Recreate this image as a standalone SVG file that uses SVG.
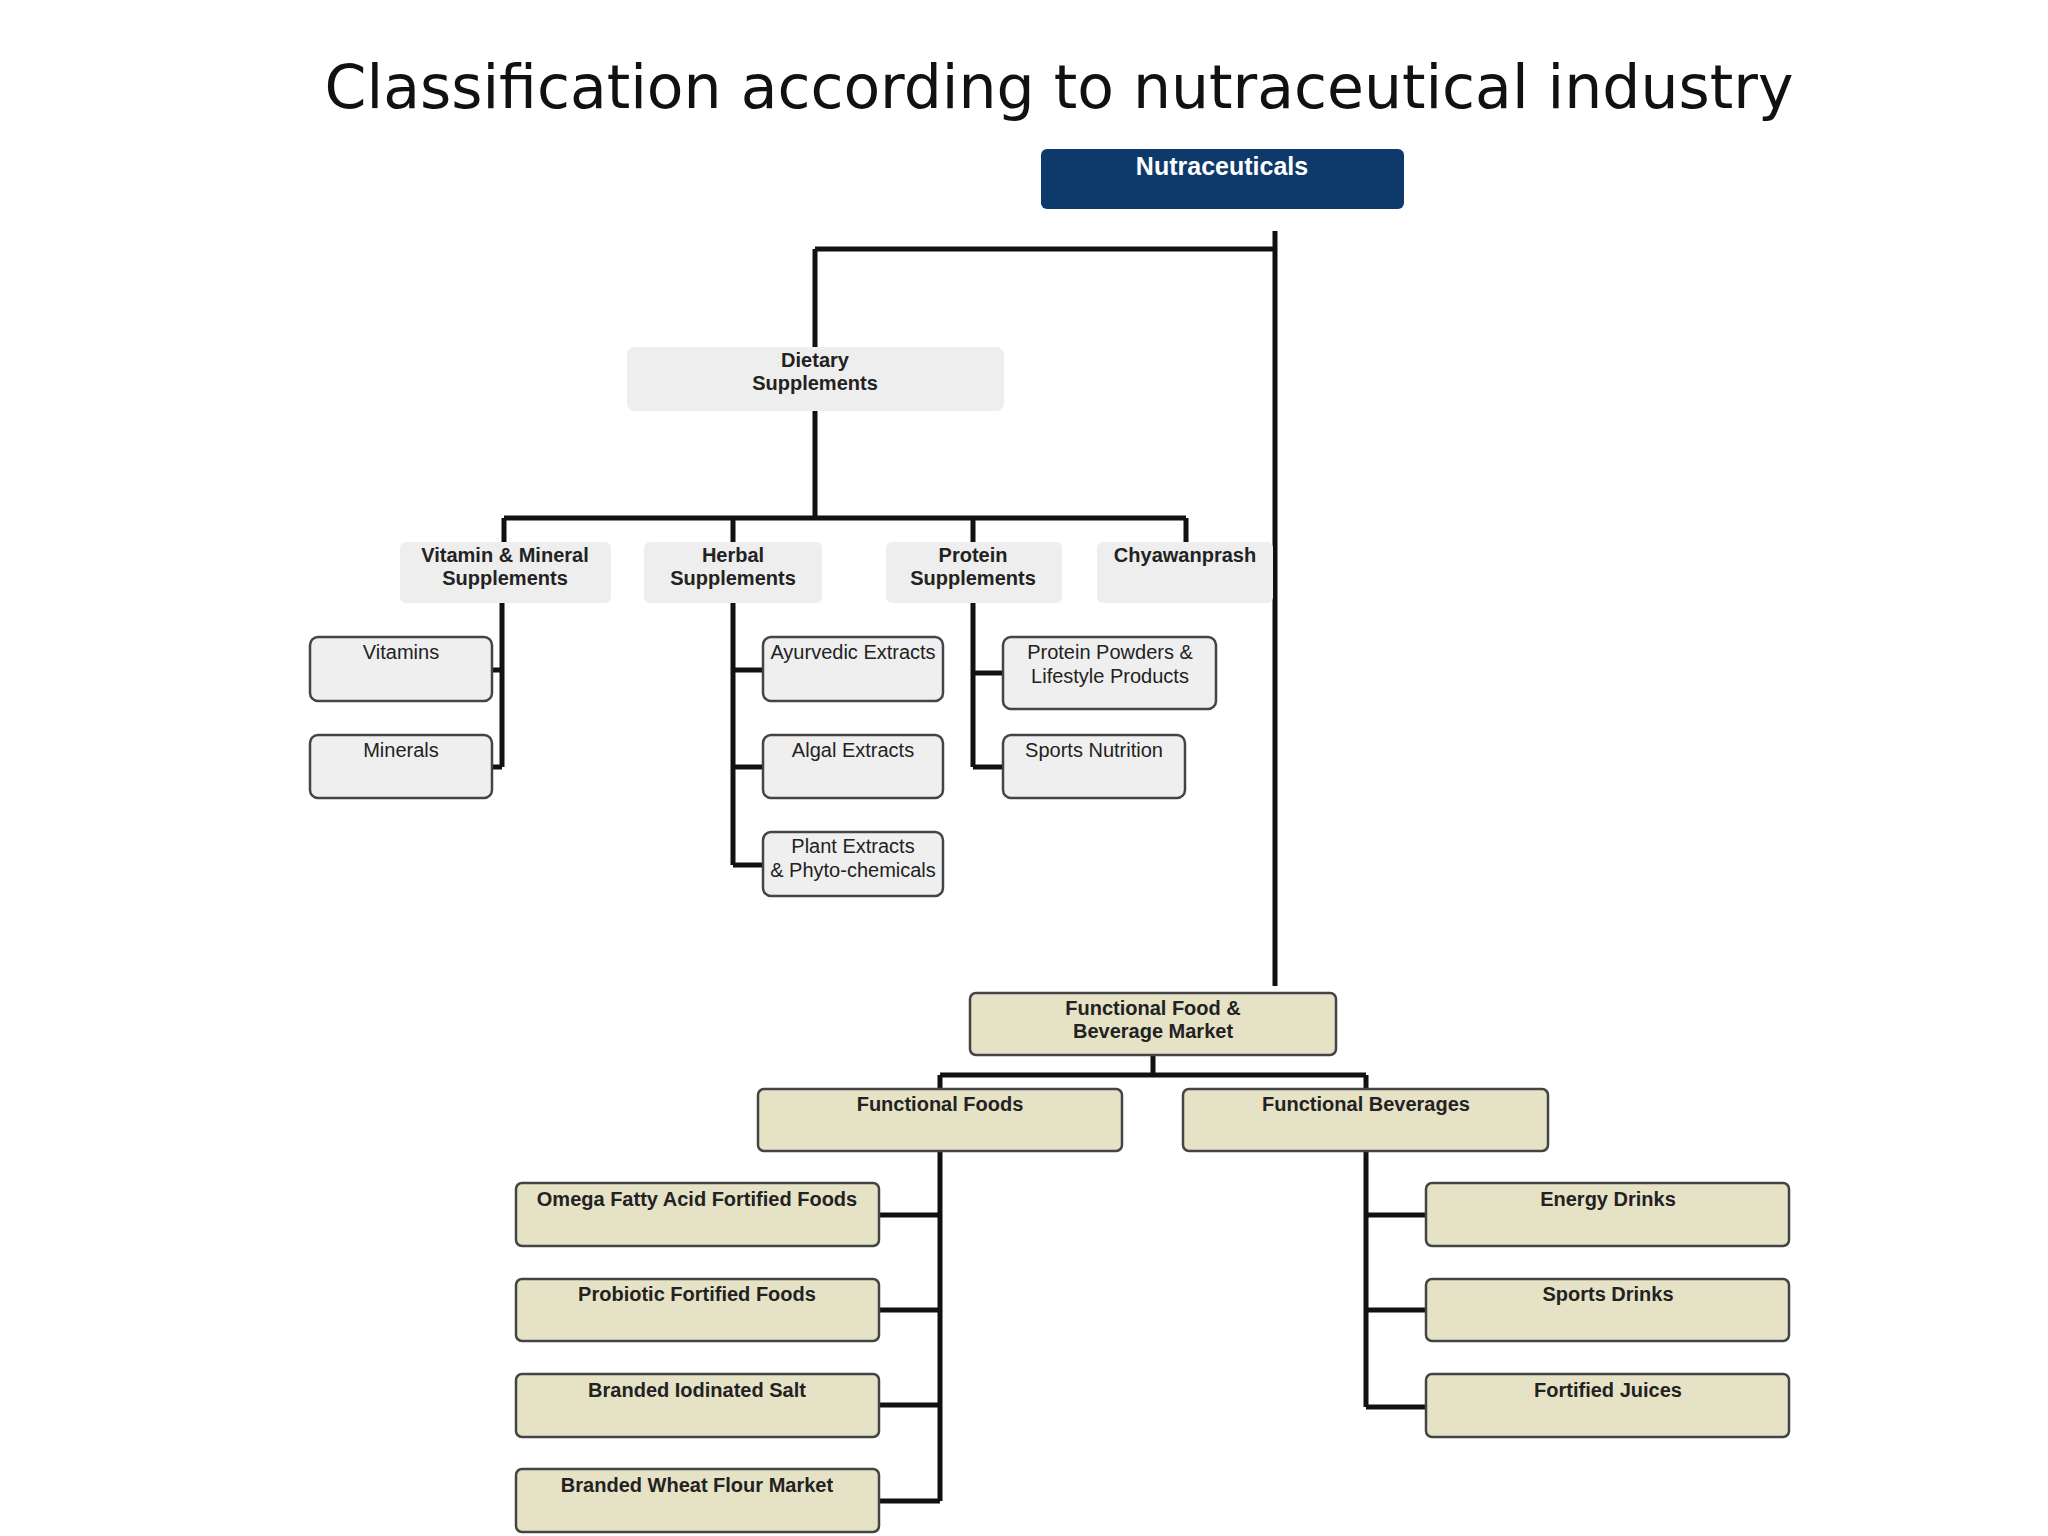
<svg xmlns="http://www.w3.org/2000/svg" width="2048" height="1536" viewBox="0 0 2048 1536">
<style>
.t{font-family:"Liberation Sans",Arial,sans-serif;font-size:20px;text-anchor:middle;fill:#222}
.b{font-weight:bold}
.g{fill:#eeeeee;stroke:none}
.l{fill:#efefef;stroke:#444;stroke-width:2.5}
.f{fill:#e6e2c6;stroke:#444;stroke-width:2.5}
.c{fill:none;stroke:#111;stroke-width:5}
</style>
<rect width="2048" height="1536" fill="#fff"/>
<text x="1059" y="108" style="font-family:'DejaVu Sans',sans-serif;font-size:60px;text-anchor:middle;fill:#111">Classification according to nutraceutical industry</text>
<g id="connectors">
<path class="c" d="M1275 231V986M815 249H1275M815 249V347"/>
<path class="c" d="M815 411V518M504 518H1186M504 518V542M733 518V542M973 518V542M1186 518V542"/>
<path class="c" d="M502 603V767M492 670H502M492 767H502"/>
<path class="c" d="M733 603V865M733 670H763M733 767H763M733 865H763"/>
<path class="c" d="M973 603V767M973 673H1003M973 767H1003"/>
<path class="c" d="M1153 1055V1075M940 1075H1366M940 1075V1089M1366 1075V1089"/>
<path class="c" d="M940 1151V1501M879 1215H940M879 1310H940M879 1405H940M879 1501H940"/>
<path class="c" d="M1366 1151V1407M1366 1215H1426M1366 1310H1426M1366 1407H1426"/>
</g>
<g id="nutraceuticals"><rect x="1041" y="149" width="363" height="60" rx="6" fill="#0e3a6b"/><text class="t b" x="1222" y="175" style="fill:#fff;font-size:25px">Nutraceuticals</text></g>
<g id="dietary"><rect class="g" x="627" y="347" width="377" height="64" rx="8"/><text class="t b" x="815" y="367">Dietary</text><text class="t b" x="815" y="390">Supplements</text></g>
<g id="vm"><rect class="g" x="400" y="542" width="211" height="61" rx="6"/><text class="t b" x="505" y="562">Vitamin &amp; Mineral</text><text class="t b" x="505" y="585">Supplements</text></g>
<g id="herbal"><rect class="g" x="644" y="542" width="178" height="61" rx="6"/><text class="t b" x="733" y="562">Herbal</text><text class="t b" x="733" y="585">Supplements</text></g>
<g id="protein"><rect class="g" x="886" y="542" width="176" height="61" rx="6"/><text class="t b" x="973" y="562">Protein</text><text class="t b" x="973" y="585">Supplements</text></g>
<g id="chyawanprash"><rect class="g" x="1097" y="542" width="176" height="61" rx="6"/><text class="t b" x="1185" y="562">Chyawanprash</text></g>
<g id="vitamins"><rect class="l" x="310" y="637" width="182" height="64" rx="8"/><text class="t" x="401" y="659">Vitamins</text></g>
<g id="minerals"><rect class="l" x="310" y="735" width="182" height="63" rx="8"/><text class="t" x="401" y="757">Minerals</text></g>
<g id="ayurvedic"><rect class="l" x="763" y="637" width="180" height="64" rx="8"/><text class="t" x="853" y="659">Ayurvedic Extracts</text></g>
<g id="algal"><rect class="l" x="763" y="735" width="180" height="63" rx="8"/><text class="t" x="853" y="757">Algal Extracts</text></g>
<g id="plant"><rect class="l" x="763" y="832" width="180" height="64" rx="8"/><text class="t" x="853" y="853">Plant Extracts</text><text class="t" x="853" y="877">&amp; Phyto-chemicals</text></g>
<g id="powders"><rect class="l" x="1003" y="637" width="213" height="72" rx="8"/><text class="t" x="1110" y="659">Protein Powders &amp;</text><text class="t" x="1110" y="683">Lifestyle Products</text></g>
<g id="sportsnutrition"><rect class="l" x="1003" y="735" width="182" height="63" rx="8"/><text class="t" x="1094" y="757">Sports Nutrition</text></g>
<g id="ffbm"><rect class="f" x="970" y="993" width="366" height="62" rx="6"/><text class="t b" x="1153" y="1015">Functional Food &amp;</text><text class="t b" x="1153" y="1038">Beverage Market</text></g>
<g id="foods"><rect class="f" x="758" y="1089" width="364" height="62" rx="6"/><text class="t b" x="940" y="1111">Functional Foods</text></g>
<g id="beverages"><rect class="f" x="1183" y="1089" width="365" height="62" rx="6"/><text class="t b" x="1366" y="1111">Functional Beverages</text></g>
<g id="omega"><rect class="f" x="516" y="1183" width="363" height="63" rx="6"/><text class="t b" x="697" y="1206">Omega Fatty Acid Fortified Foods</text></g>
<g id="probiotic"><rect class="f" x="516" y="1279" width="363" height="62" rx="6"/><text class="t b" x="697" y="1301">Probiotic Fortified Foods</text></g>
<g id="salt"><rect class="f" x="516" y="1374" width="363" height="63" rx="6"/><text class="t b" x="697" y="1397">Branded Iodinated Salt</text></g>
<g id="flour"><rect class="f" x="516" y="1469" width="363" height="63" rx="6"/><text class="t b" x="697" y="1492">Branded Wheat Flour Market</text></g>
<g id="energy"><rect class="f" x="1426" y="1183" width="363" height="63" rx="6"/><text class="t b" x="1608" y="1206">Energy Drinks</text></g>
<g id="sportsdrinks"><rect class="f" x="1426" y="1279" width="363" height="62" rx="6"/><text class="t b" x="1608" y="1301">Sports Drinks</text></g>
<g id="juices"><rect class="f" x="1426" y="1374" width="363" height="63" rx="6"/><text class="t b" x="1608" y="1397">Fortified Juices</text></g>
</svg>
